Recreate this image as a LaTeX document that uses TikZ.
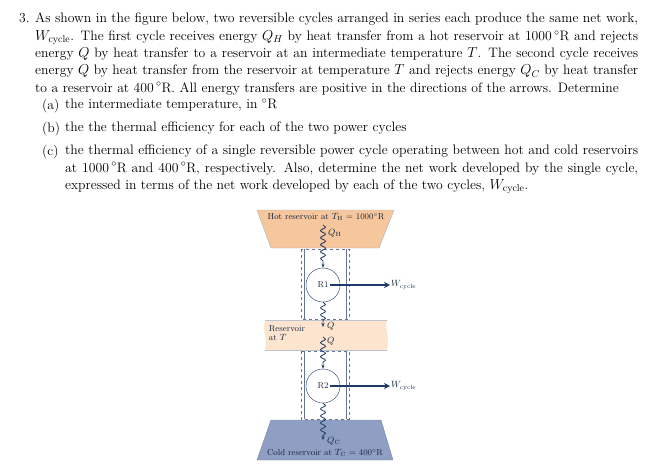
\documentclass[tikz,border=0pt]{standalone}
\usetikzlibrary{positioning, calc, arrows.meta, decorations.pathmorphing}

\definecolor{navy}{HTML}{1F3A68}
\definecolor{hotfill}{HTML}{F6C69C}
\definecolor{midfill}{HTML}{FCE4CE}
\definecolor{coldfill}{HTML}{8E9FC3}

\tikzset{
  body/.style={anchor=north west, inner sep=0pt, align=justify, font=\fontsize{13.7}{17.3}\selectfont},
  lab/.style={inner sep=1pt, font=\fontsize{8.6}{9.6}\selectfont, text=navy!60!black},
  heat/.style={navy, thick, decorate, decoration={snake, amplitude=2.5pt, segment length=7pt, post length=4pt}, -{Stealth[length=4pt]}},
  work/.style={navy, line width=2pt, -{Stealth[length=6pt, width=6pt]}},
  engine/.style={circle, draw=navy, minimum size=34pt, inner sep=0pt}
}

\begin{document}
\begin{tikzpicture}[x=1pt, y=-1pt]
  \useasboundingbox (0,0) rectangle (658,476);

  % problem text
  \node[body] (num) at (19,13) {3.};
  \node[body, text width=603pt] (intro) at (35,13) {As shown in the figure below, two reversible cycles arranged in series each produce the same net work, $W_{\mathrm{cycle}}$. The first cycle receives energy $Q_H$ by heat transfer from a hot reservoir at 1000\,$^\circ$R and rejects energy $Q$ by heat transfer to a reservoir at an intermediate temperature $T$. The second cycle receives energy $Q$ by heat transfer from the reservoir at temperature $T$ and rejects energy $Q_C$ by heat transfer to a reservoir at 400\,$^\circ$R. All energy transfers are positive in the directions of the arrows. Determine};
  \node[body] (ia) at (42,99) {(a)};
  \node[body] (ta) at (65,99) {the intermediate temperature, in $^\circ$R};
  \node[body] (ib) at (42,122) {(b)};
  \node[body] (tb) at (65,122) {the the thermal efficiency for each of the two power cycles};
  \node[body] (ic) at (42,145) {(c)};
  \node[body, text width=573pt] (tc) at (65,145) {the thermal efficiency of a single reversible power cycle operating between hot and cold reservoirs at 1000\,$^\circ$R and 400\,$^\circ$R, respectively. Also, determine the net work developed by the single cycle, expressed in terms of the net work developed by each of the two cycles, $W_{\mathrm{cycle}}$.};

  % reservoirs
  \draw[navy!40, fill=hotfill] (257,210) -- (394,210) -- (379,248) -- (271,248) -- cycle;
  \fill[midfill] (265,320) -- (387,320)
    .. controls (384,327) and (390,337) .. (387,350) -- (265,350)
    .. controls (268,340) and (262,330) .. (265,320) -- cycle;
  \draw[navy!30] (265,320) -- (387,320) (265,350) -- (387,350);
  \draw[navy!60, fill=coldfill] (271,420) -- (381,420) -- (393,460) -- (257,460) -- cycle;

  % system boundaries
  \foreach \t/\b in {249/319, 351/419} {
    \draw[navy!70, dashed] (301,\t) rectangle (349,\b);
    \draw[navy!70] (304,\t) -- (304,\b) (346,\t) -- (346,\b);
  }

  % cycles
  \node[engine] (R1) at (323,285) {};
  \node[engine] (R2) at (323,386) {};
  \node[lab] (R1t) at (323,285) {R1};
  \node[lab] (R2t) at (323,386) {R2};
  \coordinate (w1) at (390,285);
  \coordinate (w2) at (390,386);
  \draw[work] (R1t.east) -- (w1);
  \draw[work] (R2t.east) -- (w2);
  \node[lab, right=0pt of w1] (W1) {$W_{\mathrm{cycle}}$};
  \node[lab, right=0pt of w2] (W2) {$W_{\mathrm{cycle}}$};

  % heat transfers
  \node[lab] (hot) at (326,217) {Hot reservoir at $T_{\mathrm{H}}$ = 1000$^\circ$R};
  \node[lab] (cold) at (325,453) {Cold reservoir at $T_{\mathrm{C}}$ = 400$^\circ$R};
  \node[lab, align=left] (mid) at (287,333) {Reservoir\\at $T$};
  \coordinate (h0) at (323,225);
  \coordinate (m1) at (323,327);
  \coordinate (m0) at (323,337);
  \coordinate (c1) at (323,440);
  \draw[heat] (h0) -- (R1);
  \draw[heat] (R1) -- (m1);
  \draw[heat] (m0) -- (R2);
  \draw[heat] (R2) -- (c1);
  \node[lab, anchor=west] (QH) at (327,233) {$Q_{\mathrm{H}}$};
  \node[lab, anchor=west] (Q1) at (326,326) {$Q$};
  \node[lab, anchor=west] (Q2) at (326,341) {$Q$};
  \node[lab, anchor=west] (QC) at (326,441) {$Q_{\mathrm{C}}$};
\end{tikzpicture}
\end{document}
